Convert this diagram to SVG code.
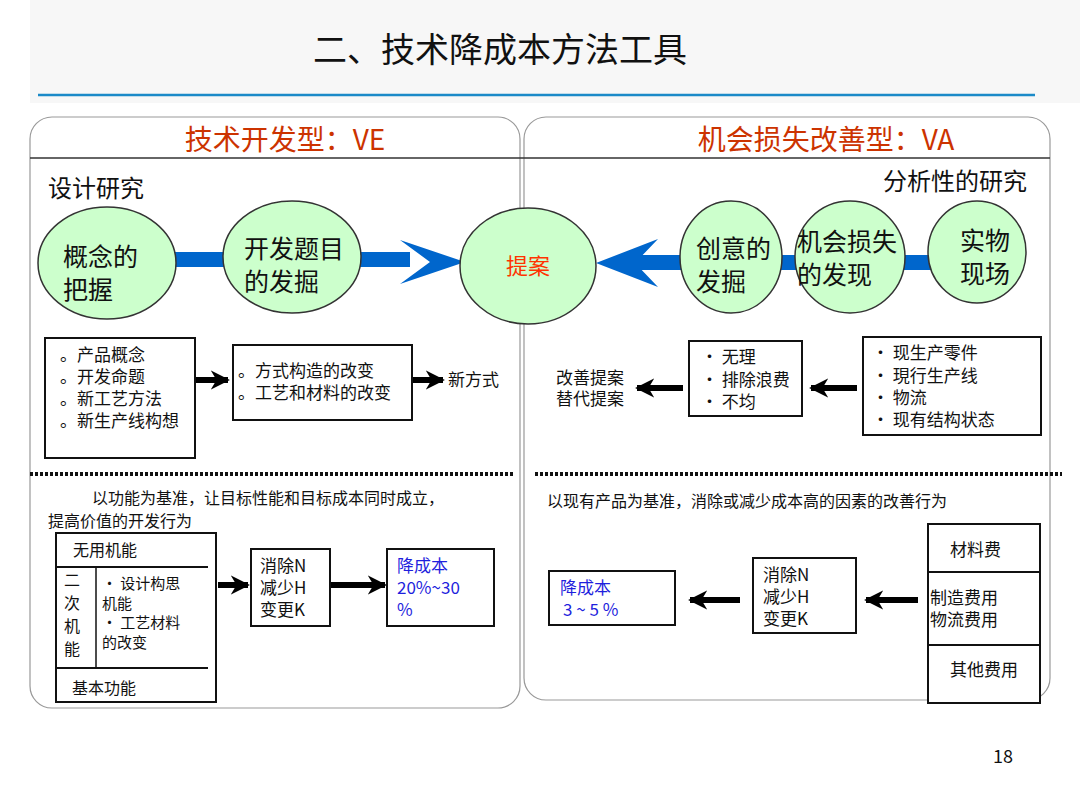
<svg xmlns="http://www.w3.org/2000/svg" width="1080" height="810" viewBox="0 0 1080 810">
<defs>
<style>
text{font-family:"Noto Sans CJK SC","Liberation Sans",sans-serif;fill:#111}
.b{fill:#fff;stroke:#111;stroke-width:2}
.e{fill:#ccffcc;stroke:#333;stroke-width:1.5}
.t{fill:#cc3300;font-size:28px}
.m{font-size:17px}
.l{font-size:25px}
.blue{fill:#1f1fdd}
</style>
<marker id="ah" viewBox="0 0 10 10" refX="9" refY="5" markerWidth="3.2" markerHeight="3.2" orient="auto"><path d="M0,0L10,5L0,10L3,5z" fill="#000"/></marker>
</defs>
<rect width="1080" height="810" fill="#fff"/>
<rect x="30" y="0" width="1050" height="103" fill="#f7f7f7"/>
<line x1="38" y1="95" x2="1035" y2="95" stroke="#1b8ac8" stroke-width="2.5"/>
<text x="500" y="62" font-size="34" text-anchor="middle">二、技术降成本方法工具</text>
<g id="panels">
<rect x="30" y="117" width="490" height="591" rx="22" fill="none" stroke="#999" stroke-width="1.2"/>
<rect x="524" y="117" width="526" height="583" rx="22" fill="none" stroke="#999" stroke-width="1.2"/>
<line x1="30" y1="158" x2="1050" y2="158" stroke="#333" stroke-width="1.5"/>
<text x="285" y="150" class="t" text-anchor="middle">技术开发型：VE</text>
<text x="826" y="150" class="t" text-anchor="middle">机会损失改善型：VA</text>
<text x="48" y="197" font-size="24">设计研究</text>
<text x="1027" y="190" font-size="24" text-anchor="end">分析性的研究</text>
<line x1="30" y1="474" x2="515" y2="474" stroke="#111" stroke-width="4" stroke-dasharray="3,2"/>
<line x1="535" y1="474" x2="1062" y2="474" stroke="#111" stroke-width="4" stroke-dasharray="3,2"/>
</g>
<g id="connectors">
<rect x="175" y="252" width="235" height="15" fill="#0066cc"/>
<path d="M400,240L465,262L400,284L430,262z" fill="#0066cc"/>
<rect x="630" y="255" width="305" height="15" fill="#0066cc"/>
<path d="M658,239L596,263L658,287L635,263z" fill="#0066cc"/>
<line x1="195" y1="380" x2="228" y2="380" stroke="#000" stroke-width="6" marker-end="url(#ah)"/>
<line x1="412" y1="380" x2="443" y2="380" stroke="#000" stroke-width="6" marker-end="url(#ah)"/>
<line x1="683" y1="388" x2="637" y2="388" stroke="#000" stroke-width="6" marker-end="url(#ah)"/>
<line x1="857" y1="388" x2="811" y2="388" stroke="#000" stroke-width="6" marker-end="url(#ah)"/>
<line x1="218" y1="585" x2="248" y2="585" stroke="#000" stroke-width="6" marker-end="url(#ah)"/>
<line x1="330" y1="585" x2="385" y2="585" stroke="#000" stroke-width="6" marker-end="url(#ah)"/>
<line x1="740" y1="600" x2="690" y2="600" stroke="#000" stroke-width="6" marker-end="url(#ah)"/>
<line x1="918" y1="600" x2="866" y2="600" stroke="#000" stroke-width="6" marker-end="url(#ah)"/>
</g>
<g id="n1"><ellipse cx="107" cy="263" rx="69" ry="56" class="e"/><text x="63" y="266" class="l">概念的</text><text x="63" y="299" class="l">把握</text></g>
<g id="n2"><ellipse cx="292" cy="257" rx="69" ry="56" class="e"/><text x="244" y="258" class="l">开发题目</text><text x="244" y="291" class="l">的发掘</text></g>
<g id="n3"><ellipse cx="528" cy="266" rx="68" ry="58" class="e"/><text x="528" y="274" font-size="22" text-anchor="middle" style="fill:#ff3300">提案</text></g>
<g id="n4"><ellipse cx="731" cy="257" rx="51" ry="56" class="e"/><text x="696" y="258" class="l">创意的</text><text x="696" y="291" class="l">发掘</text></g>
<g id="n5"><ellipse cx="850" cy="257" rx="55" ry="56" class="e"/><text x="797" y="251" class="l">机会损失</text><text x="797" y="284" class="l">的发现</text></g>
<g id="n6"><ellipse cx="977" cy="252" rx="49" ry="51" class="e"/><text x="985" y="250" class="l" text-anchor="middle">实物</text><text x="985" y="283" class="l" text-anchor="middle">现场</text></g>
<g id="b1"><rect x="45" y="338" width="150" height="120" class="b"/>
<text x="60" y="361" class="m">。产品概念</text><text x="60" y="383" class="m">。开发命题</text><text x="60" y="405" class="m">。新工艺方法</text><text x="60" y="427" class="m">。新生产线构想</text></g>
<g id="b2"><rect x="233" y="345" width="179" height="75" class="b"/>
<text x="238" y="377" class="m">。方式构造的改变</text><text x="238" y="399" class="m">。工艺和材料的改变</text></g>
<text x="448" y="386" class="m">新方式</text>
<text x="556" y="384" class="m">改善提案</text><text x="556" y="405" class="m">替代提案</text>
<g id="b3"><rect x="689" y="341" width="113" height="75" class="b"/>
<text x="701" y="363" class="m">· 无理</text><text x="701" y="386" class="m">· 排除浪费</text><text x="701" y="408" class="m">· 不均</text></g>
<g id="b4"><rect x="863" y="337" width="178" height="98" class="b"/>
<text x="872" y="359" class="m">· 现生产零件</text><text x="872" y="382" class="m">· 現行生产线</text><text x="872" y="404" class="m">· 物流</text><text x="872" y="426" class="m">· 现有结构状态</text></g>
<text x="92" y="504" font-size="16">以功能为基准，让目标性能和目标成本同时成立，</text>
<text x="48" y="527" font-size="16">提高价值的开发行为</text>
<text x="547" y="507" font-size="16">以现有产品为基准，消除或减少成本高的因素的改善行为</text>
<g id="t1"><rect x="56" y="533" width="160" height="169" class="b"/>
<line x1="56" y1="567" x2="208" y2="567" stroke="#111" stroke-width="2"/>
<line x1="56" y1="668" x2="208" y2="668" stroke="#111" stroke-width="2"/>
<line x1="96" y1="567" x2="96" y2="668" stroke="#111" stroke-width="1.5"/>
<text x="73" y="556" font-size="16">无用机能</text>
<text x="64" y="586" font-size="16">二</text><text x="64" y="609" font-size="16">次</text><text x="64" y="632" font-size="16">机</text><text x="64" y="655" font-size="16">能</text>
<text x="102" y="589" font-size="15">· 设计构思</text><text x="102" y="609" font-size="15">机能</text>
<text x="102" y="628" font-size="15">· 工艺材料</text><text x="102" y="648" font-size="15">的改变</text>
<text x="72" y="694" font-size="16">基本功能</text></g>
<g id="b5"><rect x="251" y="549" width="79" height="77" class="b"/>
<text x="260" y="572" class="m">消除N</text><text x="260" y="594" class="m">减少H</text><text x="260" y="616" class="m">变更K</text></g>
<g id="b6"><rect x="387" y="549" width="107" height="77" class="b"/>
<text x="397" y="572" class="m blue">降成本</text><text x="397" y="594" class="m blue">20%~30</text><text x="397" y="616" class="m blue">%</text></g>
<g id="b7"><rect x="549" y="571" width="126" height="54" class="b"/>
<text x="560" y="594" class="m blue">降成本</text><text x="563" y="616" class="m blue">3 ~ 5 %</text></g>
<g id="b8"><rect x="753" y="558" width="103" height="75" class="b"/>
<text x="763" y="581" class="m">消除N</text><text x="763" y="603" class="m">减少H</text><text x="763" y="625" class="m">变更K</text></g>
<g id="t2"><rect x="928" y="524" width="112" height="179" class="b"/>
<line x1="928" y1="572" x2="1040" y2="572" stroke="#111" stroke-width="2"/>
<line x1="928" y1="645" x2="1040" y2="645" stroke="#111" stroke-width="2"/>
<text x="950" y="556" class="m">材料费</text>
<text x="930" y="604" class="m">制造费用</text><text x="930" y="626" class="m">物流费用</text>
<text x="950" y="676" class="m">其他费用</text></g>
<text x="1003" y="763" font-size="18" text-anchor="middle">18</text>
</svg>
